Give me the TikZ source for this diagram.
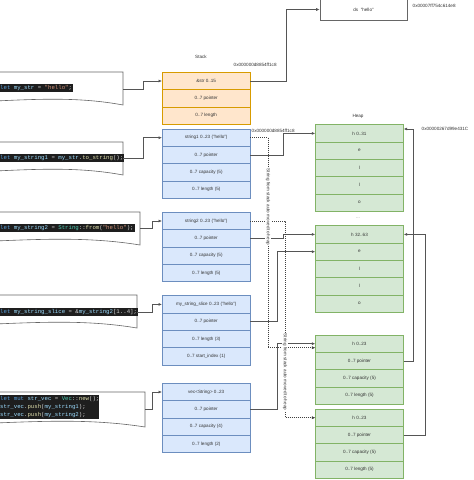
\documentclass[tikz,border=0pt]{standalone}
\usepackage{fontspec}
\setmainfont{Liberation Sans}
\setmonofont{Liberation Mono}
\usetikzlibrary{arrows.meta}
\definecolor{codebg}{HTML}{1E1E1E}
\definecolor{ckw}{HTML}{569CD6}
\definecolor{cvar}{HTML}{9CDCFE}
\definecolor{cstr}{HTML}{CE9178}
\definecolor{ctype}{HTML}{4EC9B0}
\definecolor{cfn}{HTML}{DCDCAA}
\definecolor{cpun}{HTML}{D4D4D4}
\definecolor{stkfill}{HTML}{FFE6CC}
\definecolor{stkline}{HTML}{D79B00}
\definecolor{bluefill}{HTML}{DAE8FC}
\definecolor{blueline}{HTML}{6C8EBF}
\definecolor{grnfill}{HTML}{D5E8D4}
\definecolor{grnline}{HTML}{82B366}
\definecolor{txt}{HTML}{333333}
\definecolor{wire}{HTML}{555555}
\newcommand\lblfont{\fontsize{4.6}{5.5}\selectfont}
\newcommand\codefont{\ttfamily\fontsize{5.7}{8}\selectfont}
\newcommand\cK[1]{\textcolor{ckw}{#1}}
\newcommand\cV[1]{\textcolor{cvar}{#1}}
\newcommand\cS[1]{\textcolor{cstr}{#1}}
\newcommand\cT[1]{\textcolor{ctype}{#1}}
\newcommand\cF[1]{\textcolor{cfn}{#1}}
\tikzset{
  cell/.style={draw, line width=0.6pt, minimum width=87.7pt, minimum height=17.3pt, inner sep=0pt, font=\lblfont, text=txt},
  stk/.style={cell, fill=stkfill, draw=stkline},
  blu/.style={cell, fill=bluefill, draw=blueline},
  grn/.style={cell, fill=grnfill, draw=grnline},
  plain/.style={font=\lblfont, text=txt, inner sep=0.5pt},
  addr/.style={plain, anchor=west},
  vlabel/.style={plain, rotate=-90, fill=white},
  docbox/.style={draw=black!60, line width=0.6pt, fill=white},
  codeline/.style={font=\codefont, text=cpun, fill=codebg, inner xsep=1pt, inner ysep=1.2pt, text height=4.3pt, text depth=1.3pt, anchor=west},
  codetext/.style={font=\codefont, text=cpun, inner xsep=1pt, inner ysep=0pt, text height=4.3pt, text depth=1.3pt, anchor=west},
  conn/.style={draw=wire, line width=0.7pt, -{Latex[length=3.5pt,width=3pt]}},
  dotconn/.style={draw=black!75, line width=0.5pt, dash pattern=on 1pt off 1pt, -{Latex[length=3.5pt,width=3pt]}}
}
\begin{document}
\begin{tikzpicture}[x=1pt,y=-1pt]
\useasboundingbox (0,0) rectangle (474,480);
\fill[white] (0,0) rectangle (474,480);

% code boxes (document shapes)
\draw[docbox] (-5,72) -- (123,72) -- (123,105) .. controls (80,97) and (40,99) .. (-5,101) -- cycle;
\draw[docbox] (-5,142) -- (123,142) -- (123,175) .. controls (80,167) and (40,169) .. (-5,171) -- cycle;
\draw[docbox] (-5,212) -- (140,212) -- (140,245) .. controls (91,237) and (45,239) .. (-5,241) -- cycle;
\draw[docbox] (-5,295) -- (137,295) -- (137,328) .. controls (89,320) and (45,322) .. (-5,324) -- cycle;
\draw[docbox] (-5,392) -- (145,392) -- (145,427) .. controls (94,419) and (47,421) .. (-5,423) -- cycle;

\node[codeline] (k1) at (-1,88) {\cK{let} \cV{my\_str} = \cS{"hello"};};
\node[codeline] (k2) at (-1,158) {\cK{let} \cV{my\_string1} = \cV{my\_str}.\cF{to\_string}();};
\node[codeline] (k3) at (-1,228) {\cK{let} \cV{my\_string2} = \cT{String}::\cF{from}(\cS{"hello"});};
\node[codeline] (k4) at (-1,312) {\cK{let} \cV{my\_string\_slice} = \&\cV{my\_string2}[1..4];};
\node[fill=codebg, minimum width=100pt, minimum height=24pt, inner sep=0pt, anchor=north west] (k5bg) at (-1,395) {};
\node[codetext] (k5a) at (-1,399) {\cK{let} \cK{mut} \cV{str\_vec} = \cT{Vec}::\cF{new}();};
\node[codetext] (k5b) at (-1,407) {\cV{str\_vec}.\cF{push}(\cV{my\_string1});};
\node[codetext] (k5c) at (-1,415) {\cV{str\_vec}.\cF{push}(\cV{my\_string2});};

\coordinate (c1) at (123,89);
\coordinate (c2) at (123,158);
\coordinate (c3) at (140,228);
\coordinate (c4) at (137,312);
\coordinate (c5) at (145,409);

% titles
\node[plain] (stacktitle) at (201,57) {Stack};
\node[plain] (heaptitle) at (358,116) {Heap};

% top static data box
\node[draw=black!60, line width=0.6pt, fill=white, minimum width=87pt, minimum height=21pt, inner sep=0pt, font=\lblfont, text=txt] (topbox) at (363.5,9.5) {ds~~"hello"};
\node[addr] (a1) at (412,6) {0x00007ff754c614e8};
\node[addr] (a2) at (233,65) {0x000000d8854ff1c8};
\node[addr] (a3) at (251,131) {0x000000d8854ff1c8};
\node[addr] (a4) at (421,129) {0x00000267d99e431C};

% stack: &str
\node[stk] (s0a) at (206.2,81) {\&str 0..15};
\node[stk] (s0b) at (206.2,98.3) {0..7 pointer};
\node[stk] (s0c) at (206.2,115.6) {0..7 length};

% stack: string1
\node[blu] (s1a) at (206.2,137.7) {string1 0..23 ("hello")};
\node[blu] (s1b) at (206.2,155) {0..7 pointer};
\node[blu] (s1c) at (206.2,172.3) {0..7 capacity (5)};
\node[blu] (s1d) at (206.2,189.6) {0..7 length (5)};

% stack: string2
\node[blu] (s2a) at (206.2,221) {string2 0..23 ("hello")};
\node[blu] (s2b) at (206.2,238.3) {0..7 pointer};
\node[blu] (s2c) at (206.2,255.6) {0..7 capacity (5)};
\node[blu] (s2d) at (206.2,272.9) {0..7 length (5)};

% stack: slice
\node[blu] (s3a) at (206.2,304.4) {my\_string\_slice 0..23 ("hello")};
\node[blu] (s3b) at (206.2,321.7) {0..7 pointer};
\node[blu] (s3c) at (206.2,339) {0..7 length (3)};
\node[blu] (s3d) at (206.2,356.3) {0..7 start\_index (1)};

% stack: vec
\node[blu] (s4a) at (206.2,392) {vec<String> 0..23};
\node[blu] (s4b) at (206.2,409.3) {0..7 pointer};
\node[blu] (s4c) at (206.2,426.6) {0..7 capacity (4)};
\node[blu] (s4d) at (206.2,443.9) {0..7 length (2)};

% heap 1
\node[grn] (h1a) at (359.5,133.4) {h 0..31};
\node[grn] (h1b) at (359.5,150.7) {e};
\node[grn] (h1c) at (359.5,168) {l};
\node[grn] (h1d) at (359.5,185.3) {l};
\node[grn] (h1e) at (359.5,202.6) {o};
\node[plain, text=black!50] (dots) at (358,218) {...};

% heap 2
\node[grn] (h2a) at (359.5,234.4) {h 32..63};
\node[grn] (h2b) at (359.5,251.7) {e};
\node[grn] (h2c) at (359.5,269) {l};
\node[grn] (h2d) at (359.5,286.3) {l};
\node[grn] (h2e) at (359.5,303.6) {o};

% heap 3
\node[grn] (h3a) at (359.5,343.7) {h 0..23};
\node[grn] (h3b) at (359.5,361) {0..7 pointer};
\node[grn] (h3c) at (359.5,378.3) {0..7 capacity (5)};
\node[grn] (h3d) at (359.5,395.6) {0..7 length (5)};

% heap 4
\node[grn] (h4a) at (359.5,417.7) {h 0..23};
\node[grn] (h4b) at (359.5,435) {0..7 pointer};
\node[grn] (h4c) at (359.5,452.3) {0..7 capacity (5)};
\node[grn] (h4d) at (359.5,469.6) {0..7 length (5)};

% code -> stack
\draw[conn] (c1) -- ++(20,0) |- (s0a.west);
\draw[conn] (c2) -- ++(20,0) |- (s1a.west);
\draw[conn] (c3) -- ++(12,0) |- (s2a.west);
\draw[conn] (c4) -- ++(15,0) |- (s3a.west);
\draw[conn] (c5) -- ++(7,0) |- (s4a.west);

% stack -> static / heap
\draw[conn] (s0a.east) -- ++(36,0) |- (topbox.west);
\draw[conn] (s1b.east) -- ++(33,0) |- (h1a.west);
\draw[conn] (s2b.east) -- ++(33,0) |- (h2a.west);
\draw[conn] (s3b.east) -- ++(27,0) |- (h2b.west);
\draw[conn] (s4b.east) -- ++(27,0) |- (h3a.west);

% moved strings (dotted)
\draw[dotconn] (s1a.east) -- ++(18,0) |- ([yshift=-4pt]h3a.west);
\draw[dotconn] (s2a.east) -- ++(35,0) |- (h4a.west);
\node[vlabel] (lab1) at (268,207) {String from stack auto moved to heap};
\node[vlabel] (lab2) at (285,372) {String from stack auto moved to heap};

% heap string pointers
\draw[conn] (h3b.east) -- ++(10,0) |- ([yshift=4.4pt]h1a.east);
\draw[conn] (h4b.east) -- ++(22,0) |- (h2a.east);
\end{tikzpicture}
\end{document}
